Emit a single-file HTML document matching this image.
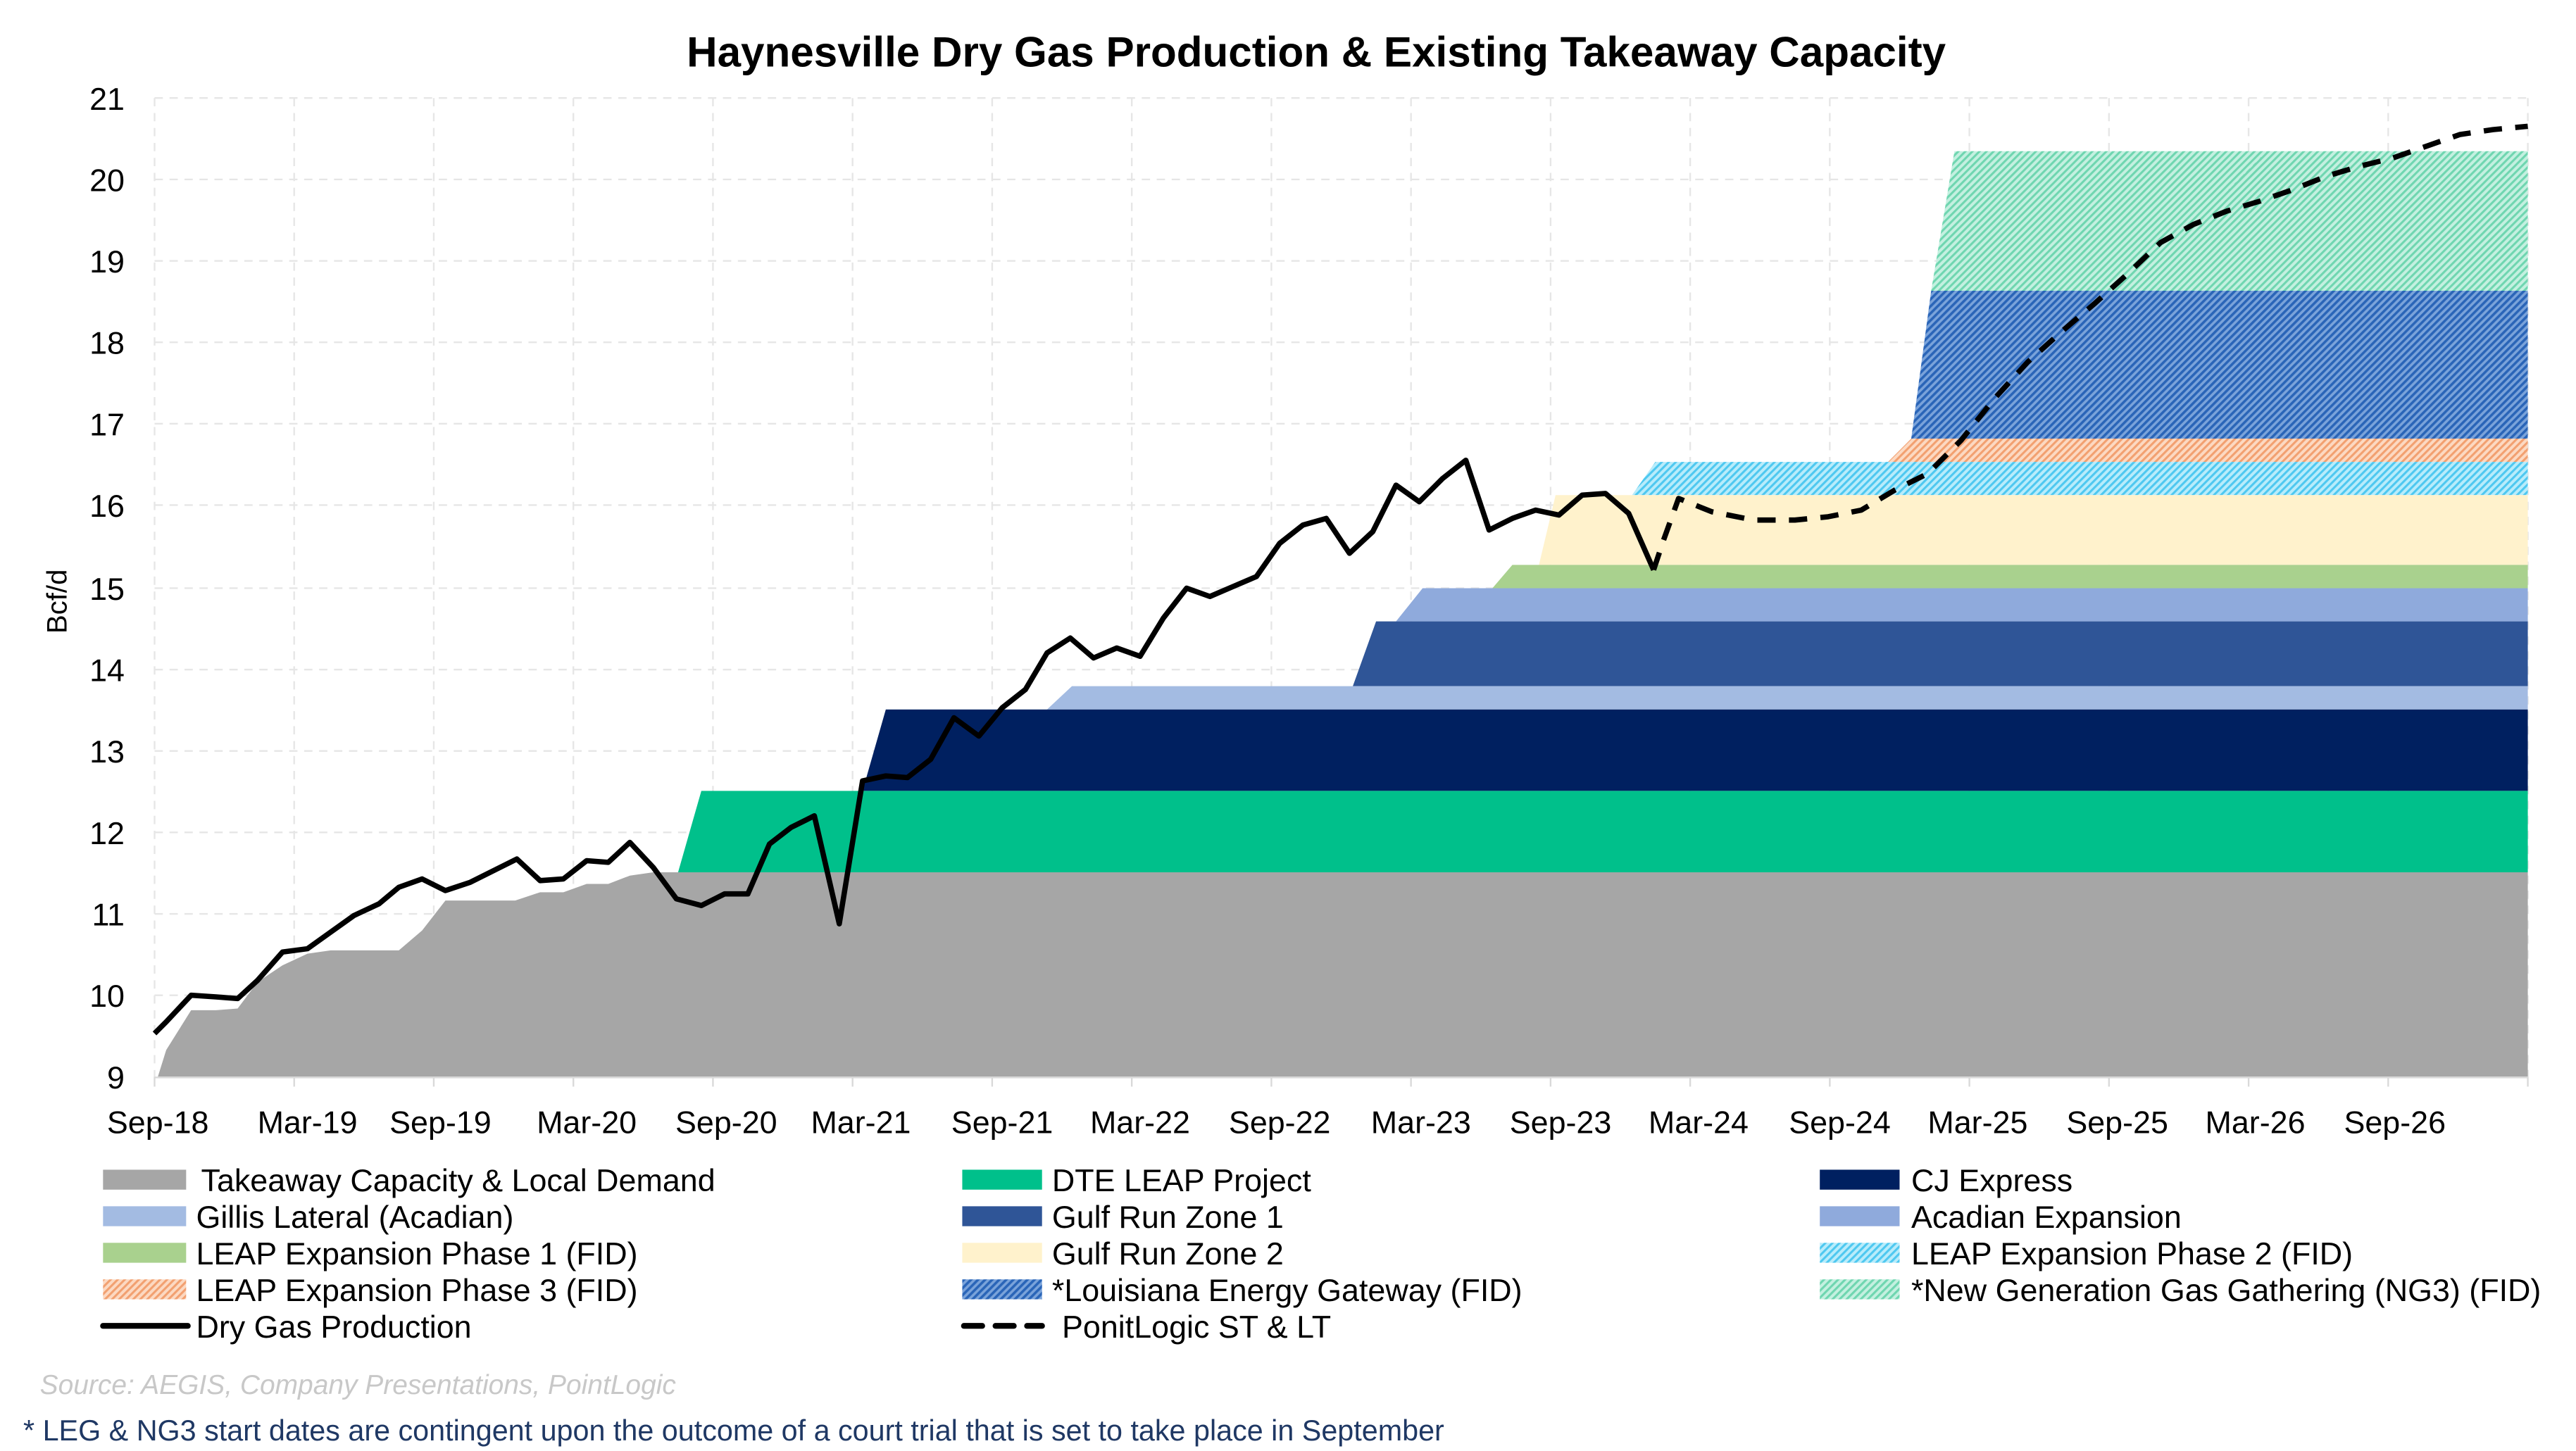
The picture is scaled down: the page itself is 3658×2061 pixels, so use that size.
<!DOCTYPE html>
<html><head><meta charset="utf-8"><style>
html,body{margin:0;padding:0;background:#fff}
svg{display:block}
text{font-family:"Liberation Sans",sans-serif}
</style></head><body>
<svg width="3658" height="2061" viewBox="0 0 1550 873.3" preserveAspectRatio="none" xmlns="http://www.w3.org/2000/svg">
<defs>
<pattern id="pL2" width="3" height="3" patternUnits="userSpaceOnUse" patternTransform="rotate(45)"><rect width="3" height="3" fill="#b8ecfb"/><rect width="1.3" height="3" fill="#4ec8f0"/></pattern>
<pattern id="pL3" width="3" height="3" patternUnits="userSpaceOnUse" patternTransform="rotate(45)"><rect width="3" height="3" fill="#fcd9c2"/><rect width="1.3" height="3" fill="#f2a070"/></pattern>
<pattern id="pLEG" width="3" height="3" patternUnits="userSpaceOnUse" patternTransform="rotate(45)"><rect width="3" height="3" fill="#7aa3da"/><rect width="1.5" height="3" fill="#2a65b8"/></pattern>
<pattern id="pNG" width="3" height="3" patternUnits="userSpaceOnUse" patternTransform="rotate(45)"><rect width="3" height="3" fill="#c4f0e0"/><rect width="1.3" height="3" fill="#6fd6b0"/></pattern>
</defs>
<rect width="1550" height="873.3" fill="#fff"/>
<text x="792" y="40" text-anchor="middle" font-size="25.5" font-weight="bold">Haynesville Dry Gas Production &amp; Existing Takeaway Capacity</text>
<g stroke="#e6e6e6" stroke-width="1" stroke-dasharray="5,4">
<line x1="93" x2="1521" y1="59" y2="59"/><line x1="93" x2="1521" y1="108" y2="108"/><line x1="93" x2="1521" y1="157" y2="157"/><line x1="93" x2="1521" y1="206" y2="206"/><line x1="93" x2="1521" y1="255" y2="255"/><line x1="93" x2="1521" y1="304" y2="304"/><line x1="93" x2="1521" y1="354" y2="354"/><line x1="93" x2="1521" y1="403" y2="403"/><line x1="93" x2="1521" y1="452" y2="452"/><line x1="93" x2="1521" y1="501" y2="501"/><line x1="93" x2="1521" y1="550" y2="550"/><line x1="93" x2="1521" y1="599" y2="599"/>
<line x1="93" x2="93" y1="59" y2="648"/><line x1="177" x2="177" y1="59" y2="648"/><line x1="261" x2="261" y1="59" y2="648"/><line x1="345" x2="345" y1="59" y2="648"/><line x1="429" x2="429" y1="59" y2="648"/><line x1="513" x2="513" y1="59" y2="648"/><line x1="597" x2="597" y1="59" y2="648"/><line x1="681" x2="681" y1="59" y2="648"/><line x1="765" x2="765" y1="59" y2="648"/><line x1="849" x2="849" y1="59" y2="648"/><line x1="933" x2="933" y1="59" y2="648"/><line x1="1017" x2="1017" y1="59" y2="648"/><line x1="1101" x2="1101" y1="59" y2="648"/><line x1="1185" x2="1185" y1="59" y2="648"/><line x1="1269" x2="1269" y1="59" y2="648"/><line x1="1353" x2="1353" y1="59" y2="648"/><line x1="1437" x2="1437" y1="59" y2="648"/><line x1="1521" x2="1521" y1="59" y2="648"/>
</g>
<polygon fill="url(#pNG)" points="1162,175 1176,91 1521,91 1521,175"/>
<polygon fill="url(#pLEG)" points="1150,264 1162,175 1521,175 1521,264"/>
<polygon fill="url(#pL3)" points="1136,278 1150,264 1521,264 1521,278"/>
<polygon fill="url(#pL2)" points="982,298 996,278 1521,278 1521,298"/>
<polygon fill="#fff2cc" points="926,340 936,298 1521,298 1521,340"/>
<polygon fill="#a9d18e" points="898,354 910,340 1521,340 1521,354"/>
<polygon fill="#8faadc" points="840,374 856,354 1521,354 1521,374"/>
<polygon fill="#2f5597" points="814,413 828,374 1521,374 1521,413"/>
<polygon fill="#a3bbe2" points="630,427 645,413 1521,413 1521,427"/>
<polygon fill="#002060" points="519,476 533,427 1521,427 1521,476"/>
<polygon fill="#00c08b" points="408,525 422,476 1521,476 1521,525"/>
<polygon fill="#a6a6a6" points="95,648 100,632 115,608 130,608 143,607 155,591 170,581 185,574 199,572 240,572 254,560 268,542 310,542 325,537 339,537 353,532 366,532 379,527 393,525 1521,525 1521,648"/>
<line x1="93" x2="1521" y1="648.5" y2="648.5" stroke="#d9d9d9" stroke-width="1"/>
<g stroke="#d9d9d9" stroke-width="1">
<line x1="93" x2="93" y1="648" y2="654"/><line x1="177" x2="177" y1="648" y2="654"/><line x1="261" x2="261" y1="648" y2="654"/><line x1="345" x2="345" y1="648" y2="654"/><line x1="429" x2="429" y1="648" y2="654"/><line x1="513" x2="513" y1="648" y2="654"/><line x1="597" x2="597" y1="648" y2="654"/><line x1="681" x2="681" y1="648" y2="654"/><line x1="765" x2="765" y1="648" y2="654"/><line x1="849" x2="849" y1="648" y2="654"/><line x1="933" x2="933" y1="648" y2="654"/><line x1="1017" x2="1017" y1="648" y2="654"/><line x1="1101" x2="1101" y1="648" y2="654"/><line x1="1185" x2="1185" y1="648" y2="654"/><line x1="1269" x2="1269" y1="648" y2="654"/><line x1="1353" x2="1353" y1="648" y2="654"/><line x1="1437" x2="1437" y1="648" y2="654"/><line x1="1521" x2="1521" y1="648" y2="654"/>
</g>
<polyline fill="none" stroke="#000" stroke-width="3.2" stroke-linejoin="round" points="93,622 100,615 115,599 130,600 143,601 155,590 170,573 185,571 199,561 213,551 228,544 240,534 254,529 268,536 283,531 297,524 311,517 325,530 339,529 353,518 366,519 379,507 393,522 407,541 422,545 436,538 450,538 463,508 476,498 490,491 505,556 519,470 533,467 546,468 560,457 574,432 589,443 603,426 617,415 630,393 644,384 658,396 672,390 686,395 700,372 714,354 728,359 742,353 756,347 770,327 784,316 798,312 812,333 826,320 840,292 854,302 868,288 882,277 896,319 910,312 924,307 938,310 952,298 966,297 980,309 995,343"/>
<polyline fill="none" stroke="#000" stroke-width="3.2" stroke-dasharray="11,8" stroke-linejoin="round" points="995,343 1001,325 1010,300 1030,308 1055,313 1080,313 1100,311 1120,307 1140,295 1160,285 1180,265 1200,240 1220,218 1240,200 1260,183 1280,165 1300,146 1320,135 1340,127 1360,121 1380,114 1400,106 1420,100 1440,95 1460,88 1480,81 1500,78 1521,76"/>
<g font-size="19" text-anchor="end">
<text x="75" y="66">21</text><text x="75" y="115">20</text><text x="75" y="164">19</text><text x="75" y="213">18</text><text x="75" y="262">17</text><text x="75" y="311">16</text><text x="75" y="361">15</text><text x="75" y="410">14</text><text x="75" y="459">13</text><text x="75" y="508">12</text><text x="75" y="557">11</text><text x="75" y="606">10</text><text x="75" y="655">9</text>
</g>
<text transform="translate(40,362) rotate(-90)" text-anchor="middle" font-size="17">Bcf/d</text>
<g font-size="19" text-anchor="middle">
<text x="95" y="682">Sep-18</text><text x="185" y="682">Mar-19</text><text x="265" y="682">Sep-19</text><text x="353" y="682">Mar-20</text><text x="437" y="682">Sep-20</text><text x="518" y="682">Mar-21</text><text x="603" y="682">Sep-21</text><text x="686" y="682">Mar-22</text><text x="770" y="682">Sep-22</text><text x="855" y="682">Mar-23</text><text x="939" y="682">Sep-23</text><text x="1022" y="682">Mar-24</text><text x="1107" y="682">Sep-24</text><text x="1190" y="682">Mar-25</text><text x="1274" y="682">Sep-25</text><text x="1357" y="682">Mar-26</text><text x="1441" y="682">Sep-26</text>
</g>
<g font-size="19">
<rect x="62" y="704" width="50" height="12" fill="#a6a6a6"/><text x="121" y="717">Takeaway Capacity &amp; Local Demand</text>
<rect x="62" y="726" width="50" height="12" fill="#a3bbe2"/><text x="118" y="739">Gillis Lateral (Acadian)</text>
<rect x="62" y="748" width="50" height="12" fill="#a9d18e"/><text x="118" y="761">LEAP Expansion Phase 1 (FID)</text>
<rect x="62" y="770" width="50" height="12" fill="url(#pL3)"/><text x="118" y="783">LEAP Expansion Phase 3 (FID)</text>
<line x1="62" x2="113" y1="798" y2="798" stroke="#000" stroke-width="3.5" stroke-linecap="round"/><text x="118" y="805">Dry Gas Production</text>
<rect x="579" y="704" width="48" height="12" fill="#00c08b"/><text x="633" y="717">DTE LEAP Project</text>
<rect x="579" y="726" width="48" height="12" fill="#2f5597"/><text x="633" y="739">Gulf Run Zone 1</text>
<rect x="579" y="748" width="48" height="12" fill="#fff2cc"/><text x="633" y="761">Gulf Run Zone 2</text>
<rect x="579" y="770" width="48" height="12" fill="url(#pLEG)"/><text x="633" y="783">*Louisiana Energy Gateway (FID)</text>
<line x1="580" x2="627" y1="798" y2="798" stroke="#000" stroke-width="3.5" stroke-dasharray="11,8" stroke-linecap="round"/><text x="639" y="805">PonitLogic ST &amp; LT</text>
<rect x="1095" y="704" width="48" height="12" fill="#002060"/><text x="1150" y="717">CJ Express</text>
<rect x="1095" y="726" width="48" height="12" fill="#8faadc"/><text x="1150" y="739">Acadian Expansion</text>
<rect x="1095" y="748" width="48" height="12" fill="url(#pL2)"/><text x="1150" y="761">LEAP Expansion Phase 2 (FID)</text>
<rect x="1095" y="770" width="48" height="12" fill="url(#pNG)"/><text x="1150" y="783">*New Generation Gas Gathering (NG3) (FID)</text>
</g>
<text x="24" y="839" font-size="16.5" font-style="italic" fill="#c8c8c8">Source: AEGIS, Company Presentations, PointLogic</text>
<text x="14" y="867" font-size="17.5" fill="#1f3864">* LEG &amp; NG3 start dates are contingent upon the outcome of a court trial that is set to take place in September</text>
</svg>
</body></html>
